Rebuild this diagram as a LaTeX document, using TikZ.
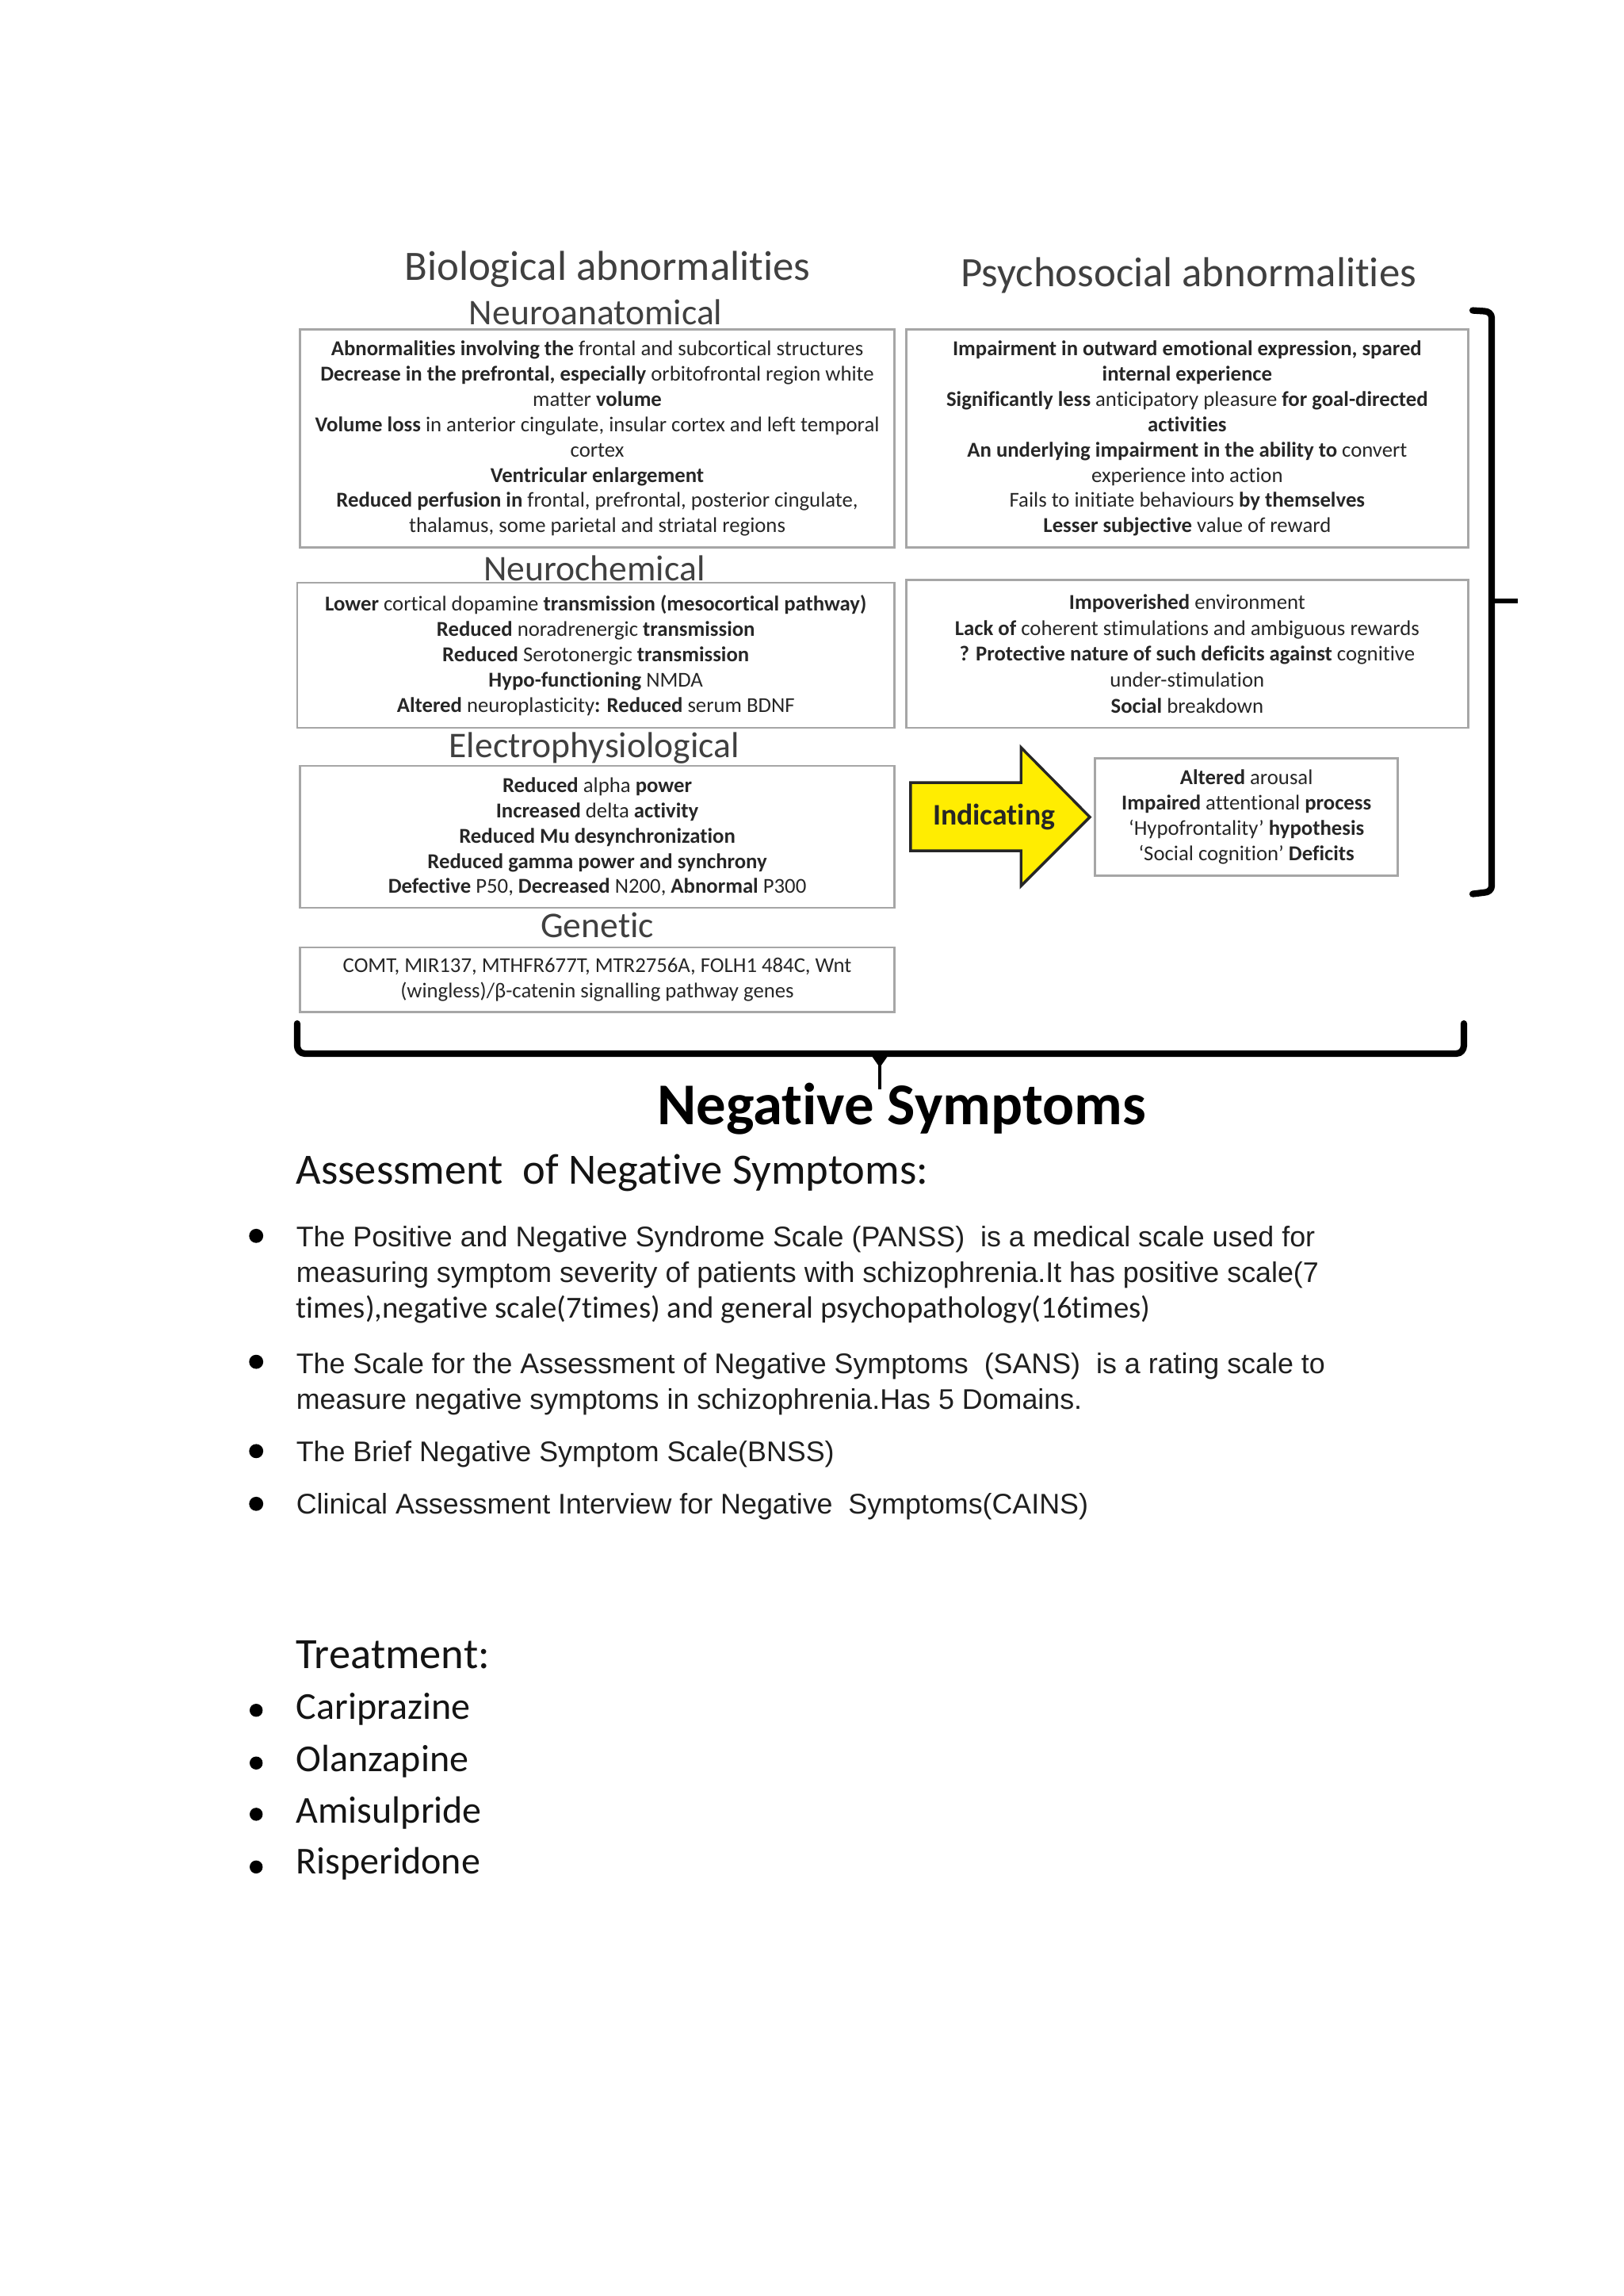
\documentclass[tikz,border=0pt]{standalone}
\usepackage{fontspec}
\setmainfont{Carlito}[Ligatures=NoCommon]
\newfontfamily\arialfont{Liberation Sans}
\usepackage{tikz}

\begin{document}
\begin{tikzpicture}[x={(0.018936cm,0cm)}, y={(0cm,-0.018936cm)},
  infobox/.style={draw=gray!70, line width=0.8pt, align=center, inner sep=0pt, text=black!85},
  boxfont/.style={font=\fontsize{7.8}{9.3}\selectfont},
  bigtitle/.style={text=black!75, font=\fontsize{15.4}{17}\selectfont},
  subtitle/.style={text=black!75, font=\fontsize{13.3}{15}\selectfont},
  bodytext/.style={anchor=west, align=left, inner sep=0pt, text=black!88, font=\arialfont\fontsize{10.45}{13.2}\selectfont},
  listtext/.style={anchor=west, inner sep=0pt, text=black!92, font=\fontsize{14}{17}\selectfont},
  headtext/.style={anchor=west, inner sep=0pt, text=black!92, font=\fontsize{15.9}{19}\selectfont},
  brace/.style={line width=2.4pt, line cap=round, line join=round}]

\def\px{0.018936cm}

\useasboundingbox (0,0) rectangle (1109,1568);

% Headings
\node[bigtitle] (bio) at (415,184) {Biological abnormalities};
\node[bigtitle] (psy) at (812,188) {Psychosocial abnormalities};
\node[subtitle] (anat) at (407,213) {Neuroanatomical};
\node[subtitle] (chem) at (406,388) {Neurochemical};
\node[subtitle] (elec) at (406,511) {Electrophysiological};
\node[subtitle] (gene) at (408,632) {Genetic};

% Biological boxes
\node[infobox, boxfont, minimum width=406*\px, minimum height=149*\px] (anatbox) at (408,299.5)
 {\textbf{Abnormalities involving the} frontal and subcortical structures\\
  \textbf{Decrease in the prefrontal, especially} orbitofrontal region white\\
  matter \textbf{volume}\\
  \textbf{Volume loss} in anterior cingulate, insular cortex and left temporal\\
  cortex\\
  \textbf{Ventricular enlargement}\\
  \textbf{Reduced perfusion in} frontal, prefrontal, posterior cingulate,\\
  thalamus, some parietal and striatal regions};

\node[infobox, boxfont, minimum width=408*\px, minimum height=99*\px] (chembox) at (407,447.5)
 {\textbf{Lower} cortical dopamine \textbf{transmission (mesocortical pathway)}\\
  \textbf{Reduced} noradrenergic \textbf{transmission}\\
  \textbf{Reduced} Serotonergic \textbf{transmission}\\
  \textbf{Hypo-functioning} NMDA\\
  \textbf{Altered} neuroplasticity\textbf{: Reduced} serum BDNF};

\node[infobox, boxfont, minimum width=406*\px, minimum height=97*\px] (elecbox) at (408,571.5)
 {\textbf{Reduced} alpha \textbf{power}\\
  \textbf{Increased} delta \textbf{activity}\\
  \textbf{Reduced Mu desynchronization}\\
  \textbf{Reduced gamma power and synchrony}\\
  \textbf{Defective} P50, \textbf{Decreased} N200, \textbf{Abnormal} P300};

\node[infobox, boxfont, minimum width=406*\px, minimum height=44*\px] (genebox) at (408,669)
 {COMT, MIR137, MTHFR677T, MTR2756A, FOLH1 484C, Wnt\\
  (wingless)/β-catenin signalling pathway genes};

% Psychosocial boxes
\node[infobox, boxfont, minimum width=384*\px, minimum height=149*\px] (psybox) at (811,299.5)
 {\textbf{Impairment in outward emotional expression, spared}\\
  \textbf{internal experience}\\
  \textbf{Significantly less} anticipatory pleasure \textbf{for goal-directed}\\
  \textbf{activities}\\
  \textbf{An underlying impairment in the ability to} convert\\
  experience into action\\
  Fails to initiate behaviours \textbf{by themselves}\\
  \textbf{Lesser subjective} value of reward};

\node[infobox, font=\fontsize{7.8}{9.6}\selectfont, minimum width=384*\px, minimum height=101*\px] (envbox) at (811,446.5)
 {\textbf{Impoverished} environment\\
  \textbf{Lack of} coherent stimulations and ambiguous rewards\\
  \textbf{? Protective nature of such deficits against} cognitive\\
  under-stimulation\\
  \textbf{Social} breakdown};

\node[infobox, boxfont, minimum width=207*\px, minimum height=80*\px] (indbox) at (851.5,558)
 {\textbf{Altered} arousal\\
  \textbf{Impaired} attentional \textbf{process}\\
  ‘Hypofrontality’ \textbf{hypothesis}\\
  ‘Social cognition’ \textbf{Deficits}};

% Yellow arrow
\fill[yellow!95!orange, draw=black!85, line width=1pt, line join=miter]
 (622,534.5) -- (697.5,534.5) -- (697.5,510.5) -- (744.5,558) -- (697.5,605) -- (697.5,581) -- (622,581) -- cycle;
\node[font=\bfseries\fontsize{11}{13}\selectfont, text=black!85] (ind) at (679,558) {Indicating};

% Right bracket
\draw[brace] (1006,212) -- (1014,212.5) to[out=0,in=90] (1019,217) -- (1019,605)
 to[out=-90,in=0] (1014,609.5) -- (1006,610.5);
\draw[line width=1.8pt] (1019,410.5) -- (1037,410.5);

% Bottom brace
\draw[brace] (203,699) -- (203,714) to[out=-90,in=180] (208,719.5) -- (995,719.5)
 to[out=0,in=-90] (1000,714) -- (1000,699);
\fill (594,719) -- (608,719) -- (601,729) -- cycle;
\draw[line width=1.1pt] (601,722) -- (601,744);
\node[font=\bfseries\fontsize{21.8}{25}\selectfont] (negsym) at (616,757) {Negative Symptoms};

% Assessment
\node[headtext] (assess) at (202,801) {Assessment~ of Negative Symptoms:};

\fill (175,844) circle (2.6pt);
\node[bodytext] (panss) at (202,870.5)
 {The Positive and Negative Syndrome Scale (PANSS)~ is a medical scale used for\\
  measuring symptom severity of patients with schizophrenia.It has positive scale(7\\
  {\normalfont\fontsize{11.3}{13.2}\selectfont times),negative scale(7times) and general psychopathology(16times)}};

\fill (175,930) circle (2.6pt);
\node[bodytext] (sans) at (202,945)
 {The Scale for the Assessment of Negative Symptoms~ (SANS)~ is a rating scale to\\
  measure negative symptoms in schizophrenia.Has 5 Domains.};

\fill (175,991) circle (2.6pt);
\node[bodytext] (bnss) at (202,993) {The Brief Negative Symptom Scale(BNSS)};

\fill (175,1027) circle (2.6pt);
\node[bodytext] (cains) at (202,1029) {Clinical Assessment Interview for Negative~ Symptoms(CAINS)};

% Treatment
\node[headtext] (treat) at (202,1130) {Treatment:};

\fill (175,1168) circle (2.4pt);
\node[listtext] (cari) at (202,1167) {Cariprazine};
\fill (175,1204) circle (2.4pt);
\node[listtext] (olan) at (202,1203) {Olanzapine};
\fill (175,1239) circle (2.4pt);
\node[listtext] (amis) at (202,1238) {Amisulpride};
\fill (175,1275) circle (2.4pt);
\node[listtext] (risp) at (202,1273) {Risperidone};

\end{tikzpicture}
\end{document}
